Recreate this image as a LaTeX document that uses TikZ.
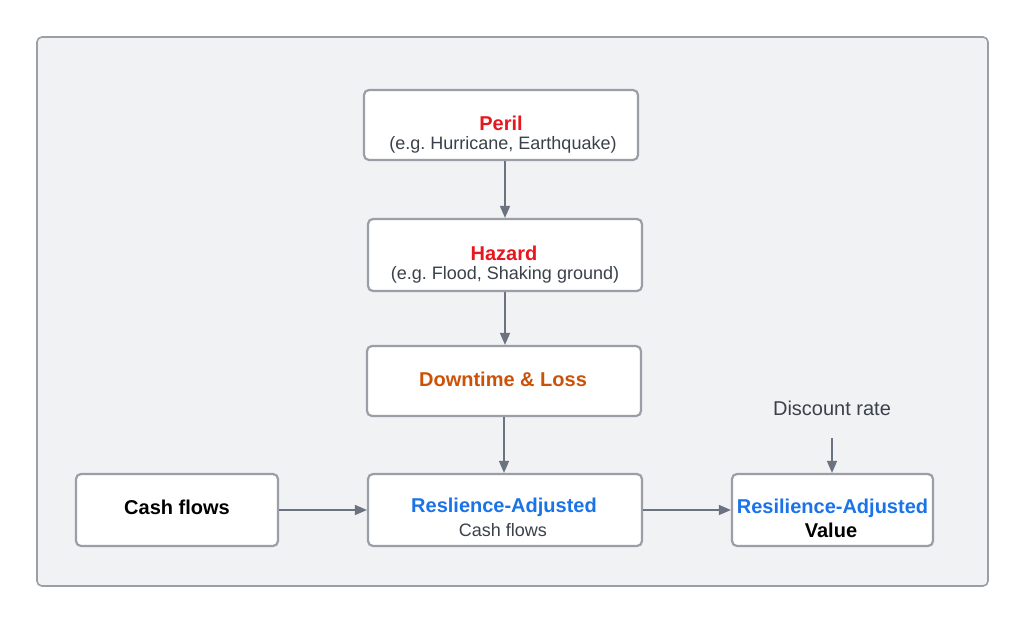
\documentclass[tikz,border=0pt]{standalone}
\usepackage{fontspec}
\setmainfont{Liberation Sans}
\usetikzlibrary{arrows.meta}
\frenchspacing
\definecolor{bgfill}{HTML}{F1F2F4}
\definecolor{bordergray}{HTML}{9A9EA6}
\definecolor{arrowgray}{HTML}{6B7280}
\definecolor{txtgray}{HTML}{3A414A}
\definecolor{perilred}{HTML}{E8171F}
\definecolor{lossorange}{HTML}{CC5208}
\definecolor{resblue}{HTML}{1A73E8}
\tikzset{
  box/.style={draw=bordergray, line width=2.2pt, fill=white, rounded corners=5pt, inner sep=0pt},
  frame/.style={draw=bordergray, line width=1.6pt, fill=bgfill, rounded corners=5pt},
  conn/.style={draw=arrowgray, line width=1.5pt, -{Triangle[length=12pt,width=10pt]}},
  title/.style={font=\fontsize{20}{24}\selectfont\bfseries},
  sub/.style={font=\fontsize{18}{22}\selectfont, text=txtgray},
}
\begin{document}
\begin{tikzpicture}[x=1pt,y=-1pt]
\useasboundingbox (0,0) rectangle (1024,623);
\fill[white] (0,0) rectangle (1024,623);
\path[frame] (37,37) rectangle (988,586);
% boxes
\node[box, minimum width=274pt, minimum height=70pt] (peril) at (501,125) {};
\node[box, minimum width=274pt, minimum height=72pt] (hazard) at (505,255) {};
\node[box, minimum width=274pt, minimum height=70pt] (loss) at (504,381) {};
\node[box, minimum width=274pt, minimum height=72pt] (rcf) at (505,510) {};
\node[box, minimum width=202pt, minimum height=72pt] (cf) at (177,510) {};
\node[box, minimum width=201pt, minimum height=72pt] (val) at (832.5,510) {};
% texts
\node[title, text=perilred] at (501,123) {Peril};
\node[sub] at (503,144.5) {(e.g. Hurricane, Earthquake)};
\node[title, text=perilred] at (504,253) {Hazard};
\node[sub] at (505,275) {(e.g. Flood, Shaking ground)};
\node[title, text=lossorange] at (503,379) {Downtime \& Loss};
\node[title, text=resblue] at (504,507) {Reslience-Adjusted};
\node[sub] at (503,530) {Cash flows};
\node[title] at (177,507) {Cash flows};
\node[title, text=resblue] at (832.5,508) {Resilience-Adjusted};
\node[title] at (831,530) {Value};
\node[font=\fontsize{20}{24}\selectfont, text=txtgray] (dr) at (832,408) {Discount rate};
\coordinate (drs) at (832,438);
% connectors
\draw[conn] (peril.south -| 505,0) -- (hazard.north -| 505,0);
\draw[conn] (hazard.south) -- (loss.north -| 505,0);
\draw[conn] (loss.south) -- (rcf.north -| 504,0);
\draw[conn] (cf.east) -- (rcf.west);
\draw[conn] (rcf.east) -- (val.west);
\draw[conn] (drs) -- (val.north -| drs);
\end{tikzpicture}
\end{document}
